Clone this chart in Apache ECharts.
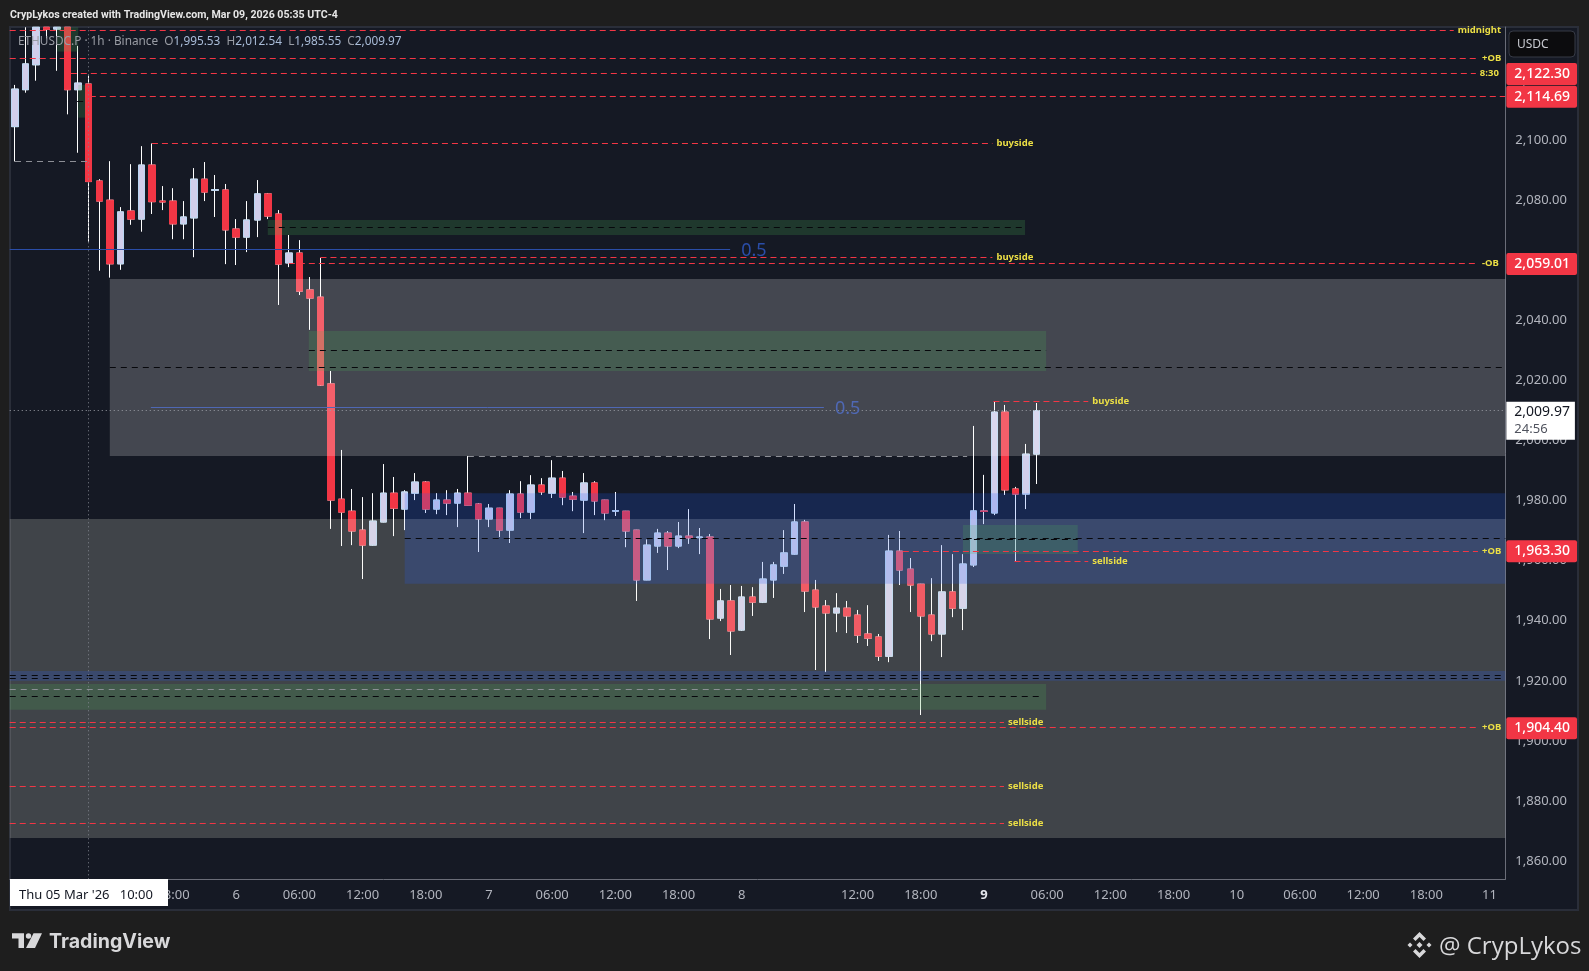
<!DOCTYPE html>
<html><head><meta charset="utf-8">
<style>html,body{margin:0;padding:0;background:#1e1e1e}#c{width:1589px;height:971px}</style>
<script src="https://cdn.jsdelivr.net/npm/echarts@6/dist/echarts.min.js"></script>
</head><body><div id="c"></div>
<script>
// open, close, low, high per hourly candle (candles running off the top of the pane are read at the pane edge)
const open_ = [2104.6,2116.9,2125.2,2137.7,2137.1,2137.7,2116.9,2118.8,2086.5,2080.1,2058.9,2076.5,2073.8,2091.8,2079.8,2079.8,2072.2,2074.2,2087.1,2083.4,2083.5,2070.5,2067.8,2073.5,2082.2,2075.5,2059.2,2062.5,2050.2,2047.8,2018.9,1980.5,1976.5,1970.2,1965.2,1972.9,1982.5,1977.2,1982.5,1986.2,1977.2,1980.2,1979.2,1982.5,1978.9,1973.9,1977.5,1970.2,1982.2,1976.2,1985.2,1982.5,1987.5,1981.5,1980.2,1985.9,1980.2,1976.5,1976.5,1970.2,1953.6,1964.9,1969.2,1964.9,1968.2,1967.7,1967.9,1940.9,1946.6,1936.9,1947.9,1946.2,1953.6,1958.2,1962.2,1972.9,1950.2,1944.9,1942.6,1944.2,1941.9,1935.6,1934.6,1928.2,1963.2,1957.2,1952.2,1941.9,1935.6,1949.6,1944.2,1958.6,1976.6,1975.9,2009.5,1983.9,1982.2,1995.53];
const close_ = [2117.1,2125.5,2137.7,2137.0,2137.7,2116.9,2119.1,2086.3,2079.8,2058.9,2076.2,2073.8,2091.8,2079.6,2079.5,2072.2,2074.5,2087.1,2082.8,2083.6,2070.2,2067.8,2073.5,2082.2,2074.8,2058.8,2062.5,2049.8,2047.5,2018.5,1980.2,1976.2,1969.9,1965.2,1973.2,1982.5,1977.5,1982.9,1986.2,1977.2,1980.2,1979.2,1982.5,1978.5,1973.9,1977.5,1970.2,1982.2,1976.2,1985.2,1982.9,1987.5,1981.2,1980.5,1985.9,1979.9,1975.9,1976.7,1969.9,1953.6,1965.2,1969.2,1964.9,1968.2,1967.6,1967.9,1940.6,1946.6,1936.6,1947.9,1946.2,1953.9,1958.6,1962.6,1972.9,1949.9,1944.6,1942.6,1944.2,1941.6,1935.2,1934.2,1928.2,1963.2,1956.9,1951.9,1941.6,1935.6,1949.6,1944.2,1958.9,1976.6,1976.4,2009.5,1983.6,1982.2,1995.5,2009.97];
const low_ = [2093,2115.9,2119.9,2134,2123.2,2108.7,2095.9,2066.3,2056.6,2054.3,2056.9,2071.9,2069.6,2075.5,2076.8,2067.1,2067.1,2061.1,2079.8,2074.5,2058.8,2058.5,2062.8,2067.8,2073.8,2045.2,2057.8,2048.5,2036.9,2018.2,1970.6,1964.9,1965.2,1953.9,1965,1972.8,1968.2,1970.2,1980.2,1975.9,1975.5,1975.2,1971.2,1978.4,1962.9,1971.2,1967.9,1965.9,1974.2,1973.9,1981.9,1980.9,1978.5,1976.5,1969.2,1975.2,1973.5,1974.9,1964.5,1946.6,1953.5,1962.6,1956.9,1964.2,1965.6,1962.2,1933.9,1939.9,1928.6,1936.6,1941.6,1945.9,1947.6,1955.6,1962,1942.9,1923.6,1922.9,1936.2,1935.9,1932.6,1931.6,1926.6,1926.2,1951.9,1942.9,1908.6,1933.2,1927.9,1941.2,1936.9,1957.9,1972.2,1975.2,1981.9,1959.9,1977.2,1985.55];
const high_ = [2118.5,2137.7,2137.7,2137.7,2137.7,2137.7,2131.5,2121.6,2087.1,2093.1,2077.8,2092.1,2098.1,2099,2084.8,2084.1,2079.8,2090.8,2092.8,2088.5,2085.5,2073.8,2079.8,2086.8,2082.5,2076.8,2068.5,2066.8,2054.5,2060.9,2023.2,1996.9,1983.9,1981.2,1982.5,1992.2,1987.9,1983.5,1989.2,1986.5,1982.5,1983.5,1983.9,1994.9,1979.2,1978.9,1977.6,1983.5,1986.5,1988.5,1987.5,1993.5,1989.9,1982.9,1989.2,1986.5,1980.3,1982.9,1976.6,1970.3,1967.1,1970.6,1969.9,1972.9,1977.2,1970.9,1968.9,1950.6,1951.9,1951.6,1951.2,1959.6,1959.6,1970.2,1978.9,1973.6,1953.6,1946.9,1949.2,1946.6,1943.6,1945.2,1935.6,1968.6,1969.9,1960.9,1952.3,1954.2,1965.2,1962.2,1962.2,2004.9,1988.6,2013.1,2011.9,1984.6,1998.9,2012.54];

const slotCount = 142;
const timeTickIdx = [9,15,21,27,33,39,45,51,57,63,69,80,86,92,98,104,110,116,122,128,134,140];
const timeTickText = ['12:00','18:00','6','06:00','12:00','18:00','7','06:00','12:00','18:00','8','12:00','18:00','9','06:00','12:00','18:00','10','06:00','12:00','18:00','11'];
const priceTicks = [1860,1880,1900,1920,1940,1960,1980,2000,2020,2040,2060,2080,2100,2120];

// price, from slot, to slot, end text
const redLevels = [
 [2136.7,-0.5,136.6,'midnight'],[2127.3,-0.5,138.9,'+OB'],[2122.3,5.3,138.7,'8:30'],[2114.69,7.1,141.5,''],
 [2099.1,13,92.8,'buyside'],[2061.1,29,92.8,'buyside'],[2059.01,26,138.9,'-OB'],
 [2013.1,92.9,101.9,'buyside'],[1959.7,94.9,101.9,'sellside'],[1963.3,84.3,138.9,'+OB'],
 [1906.3,-0.5,93.9,'sellside'],[1904.4,-0.5,138.9,'+OB'],[1884.9,-0.5,93.9,'sellside'],[1872.6,-0.5,93.9,'sellside']];
const blackLevels = [[2071.1,24,95.9],[2030.1,27.9,97.9],[2024.4,9,141.5],[1967.5,37,141.5],[1967.2,90,100.9],[1921.9,-0.5,141.5],[1920.7,-0.5,141.5],[1914.8,-0.5,97.5],[2113,5.9,6.5]];
const greyLevels = [[2093,0,7],[1994.8,43,90.4],[1917.1,-0.5,86]];
const fibLevels = [[2063.7,-0.5,67.9,'0.5'],[2011.1,12.9,76.8,'0.5']];
const lastPrice = 2009.97, countdown = '24:56';
const tagPrices = [[2122.30,'2,122.30'],[2114.69,'2,114.69'],[2059.01,'2,059.01'],[1963.30,'1,963.30'],[1904.40,'1,904.40']];

// top, bottom, from slot, to slot
const greyZoneTop = [[2053.85,1994.9,9,141.5]];
const greyZoneLow = [[1973.9,1867.6,-0.5,141.5]];
const blueZones = [[1982.5,1952.3,37,141.5],[1923.3,1920,-0.5,141.5]];
const greenZones = [[2073.5,2068.5,24,95.9],[2036.5,2023.2,27.9,97.9],[1918.9,1910.4,-0.5,97.9],[1971.9,1962.2,90,100.9],[2137.7,2129.6,4,6],[2118.5,2107.6,6,6.7]];

const chartFont = '"Noto Sans", sans-serif';
const cats = Array.from({length:slotCount},()=> '');
timeTickIdx.forEach((k,j)=>{cats[k]=timeTickText[j];});
const fmt = v => v.toLocaleString('en-US',{minimumFractionDigits:2,maximumFractionDigits:2});

const UP='#d1ceeb', UPB='#b9d6f2', DN='#f23645';
const zoneItems = (rows,color)=>rows.map(r=>[{xAxis:r[2],yAxis:r[0],itemStyle:{color}},{xAxis:r[3],yAxis:r[1]}]);
const yellow = {show:true,position:'end',distance:4,color:'#ecdf45',fontSize:9.5,fontWeight:'bold',fontFamily:chartFont};
const lineItems = (rows,color,dash,label)=>rows.map(r=>[{
  xAxis:r[1],yAxis:r[0],
  lineStyle:{color,type:dash,width:1},
  label: r[3] ? Object.assign({},label,{formatter:r[3]}) : {show:false}
},{xAxis:r[2],yAxis:r[0]}]);
const tagLabel = (bg,fg,text)=>({show:true,position:'end',distance:1,offset:[0,0.5],formatter:text,color:fg,backgroundColor:bg,fontSize:14,fontWeight:500,fontFamily:chartFont,padding:[4,7,4,8],borderRadius:2});

const option = {
 animation:false, backgroundColor:'#1e1e1e',
 grid:{left:9.74,top:27,width:1495.6,height:852.3,containLabel:false},
 xAxis:[
  {type:'category',data:cats,boundaryGap:true,
   axisLine:{show:true,lineStyle:{color:'#6a6d78',width:1}},axisTick:{show:false},splitLine:{show:false},
   axisLabel:{interval:0,hideOverlap:false,margin:9,color:'#b2b5be',fontSize:13,fontFamily:chartFont,
     formatter:v=>v==='9'?'{b|9}':v,rich:{b:{fontWeight:'bold',color:'#e4e6ec',fontSize:13,fontFamily:chartFont}}}},
  {type:'value',min:-0.5,max:slotCount-0.5,show:false}
 ],
 yAxis:{type:'value',position:'right',min:1853.88,max:2137.79,scale:true,
   axisLine:{show:true,onZero:false,lineStyle:{color:'#6a6d78',width:1}},axisTick:{show:false},splitLine:{show:false},
   axisLabel:{customValues:priceTicks,margin:10,color:'#b2b5be',fontSize:13,fontFamily:chartFont,formatter:v=>fmt(v)}},
 series:[
  {type:'candlestick',name:'wick',xAxisIndex:0,barWidth:7,z:2,clip:true,silent:true,
   data:open_.map((o,i)=>[o,close_[i],low_[i],high_[i]]),
   itemStyle:{color:'#ffffff',color0:'#ffffff',borderColor:'#ffffff',borderColor0:'#ffffff',borderWidth:1}},
  {type:'candlestick',name:'body',xAxisIndex:0,barWidth:7,z:2,clip:true,silent:true,
   data:open_.map((o,i)=>[o,close_[i],Math.min(o,close_[i]),Math.max(o,close_[i])]),
   itemStyle:{color:UP,color0:DN,borderColor:UPB,borderColor0:DN,borderWidth:1}},
  {type:'line',name:'overlay',xAxisIndex:1,data:[],silent:true,z:3,
   markArea:{silent:true,z:3,data:[
     ...zoneItems(greyZoneTop,'rgba(255,255,255,0.205)'),
     ...zoneItems(greyZoneLow,'rgba(238,238,226,0.2)'),
     ...zoneItems(blueZones,'rgba(36,95,255,0.2)'),
     ...zoneItems(greenZones,'rgba(75,180,85,0.2)')
   ]},
   markLine:{silent:true,z:5,symbol:'none',animation:false,data:[
     ...lineItems(greyLevels,'#8d8f96',[6,5],yellow),
     ...lineItems(blackLevels,'#07080c',[6,5],yellow),
     ...lineItems(redLevels,'#f23645',[6,4],yellow),
     ...lineItems([fibLevels[0]],'#2a4da8','solid',{show:true,position:'end',distance:11,offset:[0,1.5],color:'#2a4da8',fontSize:18,fontFamily:chartFont}),
     ...lineItems([fibLevels[1]],'#4f68b4','solid',{show:true,position:'end',distance:11,offset:[0,1.5],color:'#4f68b4',fontSize:18,fontFamily:chartFont}),
     {xAxis:7,lineStyle:{color:'#7f838d',type:[1,3],width:1},label:{show:false}},
     {yAxis:lastPrice,lineStyle:{color:'#9a9da5',type:[1,3],width:1},label:{show:false}},
     ...tagPrices.map(t=>({yAxis:t[0],lineStyle:{color:'rgba(0,0,0,0)'},label:tagLabel('#f23645','#ffffff',t[1])})),
     {yAxis:lastPrice,lineStyle:{color:'rgba(0,0,0,0)'},label:{show:true,position:'end',distance:1,offset:[0,10],
       formatter:'{p|'+fmt(lastPrice)+'}\n{t|'+countdown+'}',backgroundColor:'#ffffff',padding:[1,5,1,8],
       rich:{p:{color:'#131722',fontSize:14,lineHeight:18,fontFamily:chartFont},t:{color:'#50535e',fontSize:13,lineHeight:18,fontFamily:chartFont}}}}
   ]}
  }
 ],
 graphic:[
  {type:'rect',z:-10,silent:true,shape:{x:10,y:27,width:1568,height:883},style:{fill:'#151924',stroke:'#2a2e39',lineWidth:2}},
  {type:'text',z:50,silent:true,x:10,y:15,style:{text:'CrypLykos created with TradingView.com, Mar 09, 2026 05:35 UTC-4',fill:'#e6e6e6',font:'bold 10.6px Roboto, sans-serif',verticalAlign:'middle'}},
  {type:'text',z:50,silent:true,x:18,y:41.5,style:{rich:{g:{fill:'#9a9da5',font:'11.8px '+chartFont},v:{fill:'#a9bcd8',font:'11.8px '+chartFont}},text:'{g|ETHUSDC.P · 1h · Binance  O}{v|1,995.53}{g|  H}{v|2,012.54}{g|  L}{v|1,985.55}{g|  C}{v|2,009.97}',verticalAlign:'middle'}},
  {type:'rect',z:50,silent:true,shape:{x:1509,y:31,width:66,height:26,r:4},style:{fill:'#0c0c0e',stroke:'#363a45',lineWidth:1}},
  {type:'text',z:51,silent:true,x:1517,y:44.5,style:{text:'USDC',fill:'#c8cad0',font:'12px '+chartFont,verticalAlign:'middle'}},
  {type:'rect',z:60,silent:true,shape:{x:10,y:879,width:158,height:27},style:{fill:'#ffffff'}},
  {type:'text',z:61,silent:true,x:19,y:895,style:{text:"Thu 05 Mar '26   10:00",fill:'#131722',font:'13px '+chartFont,verticalAlign:'middle'}},
  // TradingView mark
  {type:'polygon',z:50,silent:true,shape:{points:[[12,933.3],[24,933.3],[24,948],[18.5,948],[18.5,938.5],[12,938.5]]},style:{fill:'#d8d8da'}},
  {type:'circle',z:50,silent:true,shape:{cx:28.5,cy:936,r:2.7},style:{fill:'#d8d8da'}},
  {type:'polygon',z:50,silent:true,shape:{points:[[33.5,933.3],[42,933.3],[35,948],[26,948]]},style:{fill:'#d8d8da'}},
  {type:'text',z:50,silent:true,x:49,y:942,style:{text:'TradingView',fill:'#d8d8da',font:'700 19.6px Inter, '+chartFont,verticalAlign:'middle'}},
  // Binance mark
  {type:'polygon',z:50,silent:true,shape:{points:[[1419.5,932],[1426,938.5],[1423.5,941],[1419.5,937],[1415.5,941],[1413,938.5]]},style:{fill:'#d8d8da'}},
  {type:'polygon',z:50,silent:true,shape:{points:[[1419.5,958],[1426,951.5],[1423.5,949],[1419.5,953],[1415.5,949],[1413,951.5]]},style:{fill:'#d8d8da'}},
  {type:'polygon',z:50,silent:true,shape:{points:[[1419.5,942],[1422.5,945],[1419.5,948],[1416.5,945]]},style:{fill:'#d8d8da'}},
  {type:'polygon',z:50,silent:true,shape:{points:[[1410,942.5],[1412.5,945],[1410,947.5],[1407.5,945]]},style:{fill:'#d8d8da'}},
  {type:'polygon',z:50,silent:true,shape:{points:[[1429,942.5],[1431.5,945],[1429,947.5],[1426.5,945]]},style:{fill:'#d8d8da'}},
  {type:'text',z:50,silent:true,x:1439,y:947,style:{text:'@ CrypLykos',fill:'#d8d8da',font:'24px "Open Sans", sans-serif',verticalAlign:'middle'}}
 ]
};
const chart = echarts.init(document.getElementById('c'),null,{renderer:'canvas'});
chart.setOption(option);
</script></body></html>
